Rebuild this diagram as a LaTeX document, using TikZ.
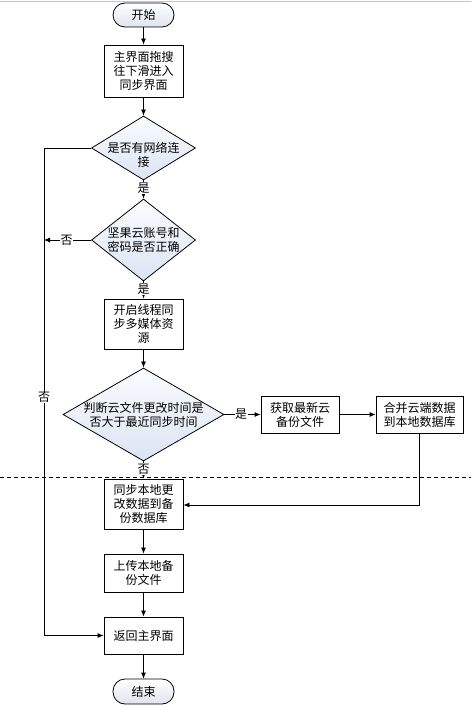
\documentclass[tikz,border=0pt]{standalone}
\usepackage{fontspec}
\setmainfont{Noto Sans CJK SC}
\usetikzlibrary{shapes.geometric,arrows.meta}
\begin{document}
\begin{tikzpicture}[x=1pt,y=-1pt,
  every node/.style={font=\fontsize{12pt}{14pt}\selectfont},
  lw/.style={line width=0.8pt},
  procbox/.style={draw,lw,fill=white,rectangle,inner sep=0pt,align=center},
  termbox/.style={draw,lw,rectangle,rounded corners=12pt,inner sep=0pt,top color=white,bottom color={rgb,255:red,222;green,228;blue,238},minimum width=61pt,minimum height=24pt},
  decbox/.style={draw,lw,diamond,inner sep=0pt,aspect=1,top color={rgb,255:red,250;green,252;blue,255},bottom color={rgb,255:red,220;green,228;blue,242}},
  arr/.style={lw,-{Latex[length=6pt,width=5pt]}},
  ln/.style={lw},
  lbl/.style={fill=white,inner sep=0.5pt}
]
\useasboundingbox (0,0) rectangle (471,711);
\draw[gray!45,line width=1pt] (0,2) -- (471,2);
\draw[lw,dash pattern=on 4pt off 3pt] (0,477) -- (471,477);

\node[termbox] (start) at (143.5,15) {开始};
\node[procbox,minimum width=79pt,minimum height=52pt] (b1) at (143.5,71) {主界面拖搜\\往下滑进入\\同步界面};
\node[decbox,minimum width=104pt,minimum height=64pt] (d1) at (143.5,148) {};
\node[align=center] (t1) at (143.5,155) {是否有网络连\\接};
\node[decbox,minimum width=104pt,minimum height=82pt] (d2) at (143.5,240) {};
\node[align=center] (t2) at (143.5,240) {坚果云账号和\\密码是否正确};
\node[procbox,minimum width=79pt,minimum height=50pt] (b3) at (143.5,324) {开启线程同\\步多媒体资\\源};
\node[decbox,minimum width=161pt,minimum height=93pt] (d3) at (143.5,414.5) {};
\node[align=center] (t3) at (143.5,415) {判断云文件更改时间是\\否大于最近同步时间};
\node[procbox,minimum width=78pt,minimum height=37pt] (b4) at (300,414.5) {获取最新云\\备份文件};
\node[procbox,minimum width=87pt,minimum height=37pt] (b5) at (419.5,414.5) {合并云端数据\\到本地数据库};
\node[procbox,minimum width=79pt,minimum height=50pt] (b6) at (143.5,504) {同步本地更\\改数据到备\\份数据库};
\node[procbox,minimum width=79pt,minimum height=38pt] (b7) at (143.5,573) {上传本地备\\份文件};
\node[procbox,minimum width=79pt,minimum height=37pt] (b8) at (143.5,635.5) {返回主界面};
\node[termbox,minimum height=25pt] (end) at (143.5,691.5) {结束};
\coordinate (lx) at (44,0);

\draw[arr] (start) -- (b1);
\draw[arr] (b1) -- (d1);
\draw[arr] (d1) -- node[lbl,pos=0.42]{是} (d2);
\draw[arr] (d2) -- node[lbl,pos=0.45]{是} (b3);
\draw[arr] (b3) -- (d3);
\draw[arr] (d3) -- node[lbl,pos=0.46]{是} (b4);
\draw[arr] (b4) -- (b5);
\draw[arr] (d3) -- node[lbl,pos=0.45]{否} (b6);
\draw[arr] (b5.south) |- (b6.east |- 0,505);
\draw[arr] (b6) -- (b7);
\draw[arr] (b7) -- (b8);
\draw[arr] (b8) -- (end);
\draw[arr] (d2.west) -- node[lbl,pos=0.52]{否} (d2.west -| lx);
\draw[arr] (d1.west) -- (d1.west -| lx) -- node[lbl,pos=0.512]{否} (b8.west -| lx) -- (b8.west);
\end{tikzpicture}
\end{document}
